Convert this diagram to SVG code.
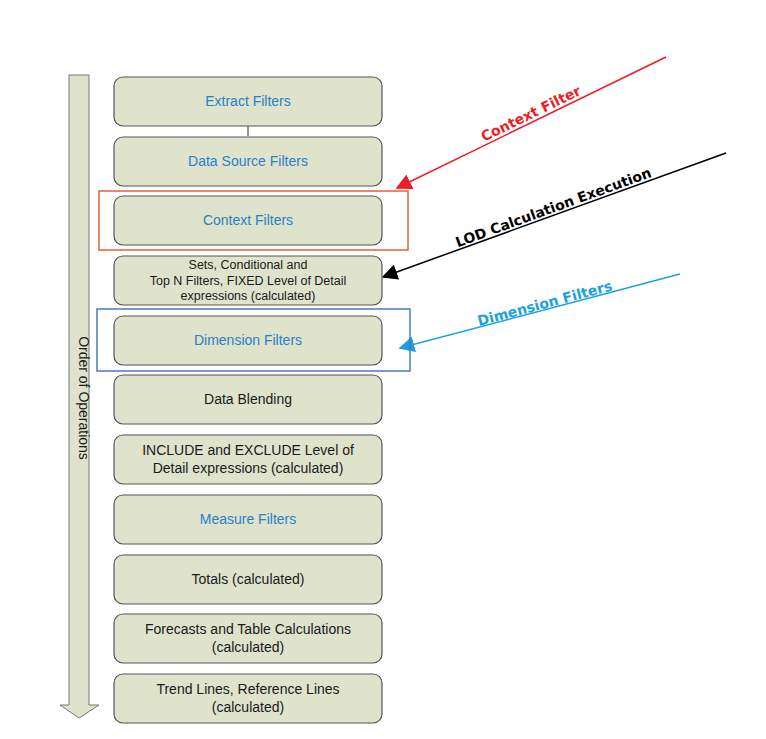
<svg xmlns="http://www.w3.org/2000/svg" width="766" height="739" viewBox="0 0 766 739">
<style>
.box{fill:#dfe3cc;stroke:#555;stroke-width:1.2}
.t{font-family:"Liberation Sans",Arial,sans-serif;font-size:14px;text-anchor:middle;fill:#1a1a1a}
.b{fill:#2a7fc9}
.s{font-size:12.5px}
.lbl{font-family:"DejaVu Sans",sans-serif;font-weight:bold;font-size:14px;text-anchor:middle}
</style>
<defs>
<marker id="mr" viewBox="0 0 10 10" refX="9" refY="5" markerWidth="6" markerHeight="6" orient="auto" markerUnits="userSpaceOnUse" style="overflow:visible"><path d="M0,0L10,5L0,10z" fill="#ee1c24" transform="scale(1.6)"/></marker>
<marker id="mk" viewBox="0 0 10 10" refX="9" refY="5" markerWidth="16" markerHeight="16" orient="auto" markerUnits="userSpaceOnUse"><path d="M0,0L10,5L0,10z" fill="#000"/></marker>
<marker id="mb" viewBox="0 0 10 10" refX="9" refY="5" markerWidth="16" markerHeight="16" orient="auto" markerUnits="userSpaceOnUse"><path d="M0,0L10,5L0,10z" fill="#1ba1e2"/></marker>
<marker id="mr2" viewBox="0 0 10 10" refX="9" refY="5" markerWidth="16" markerHeight="16" orient="auto" markerUnits="userSpaceOnUse"><path d="M0,0L10,5L0,10z" fill="#ee1c24"/></marker>
</defs>
<g id="order-arrow">
<path d="M69,75H89V705H99L79,718L60,705H69Z" fill="#dfe3cc" stroke="#777" stroke-width="1"/>
<text class="t" transform="translate(79,398) rotate(90)" font-size="14">Order of Operations</text>
</g>
<g id="connectors">
<line x1="248" y1="126" x2="248" y2="136" stroke="#333" stroke-width="1"/>
<line x1="666" y1="57" x2="397" y2="188" stroke="#ee1c24" stroke-width="1.5" marker-end="url(#mr2)"/>
<line x1="726" y1="153" x2="383" y2="277" stroke="#000" stroke-width="1.5" marker-end="url(#mk)"/>
<line x1="680" y1="274" x2="400" y2="348" stroke="#1ba1e2" stroke-width="1.5" marker-end="url(#mb)"/>
</g>
<g id="n1"><rect class="box" x="114" y="77" width="268" height="49" rx="9"/><text class="t b" x="248" y="106">Extract Filters</text></g>
<g id="n2"><rect class="box" x="114" y="137" width="268" height="49" rx="9"/><text class="t b" x="248" y="166">Data Source Filters</text></g>
<g id="n3"><rect class="box" x="114" y="196" width="268" height="49" rx="9"/><text class="t b" x="248" y="225">Context Filters</text></g>
<g id="n4"><rect class="box" x="114" y="256" width="268" height="49" rx="9"/><text class="t s" x="248" y="269">Sets, Conditional and</text><text class="t s" x="248" y="285">Top N Filters, FIXED Level of Detail</text><text class="t s" x="248" y="300">expressions (calculated)</text></g>
<g id="n5"><rect class="box" x="114" y="316" width="268" height="49" rx="9"/><text class="t b" x="248" y="345">Dimension Filters</text></g>
<g id="n6"><rect class="box" x="114" y="375" width="268" height="49" rx="9"/><text class="t" x="248" y="404">Data Blending</text></g>
<g id="n7"><rect class="box" x="114" y="435" width="268" height="49" rx="9"/><text class="t" x="248" y="455">INCLUDE and EXCLUDE Level of</text><text class="t" x="248" y="473">Detail expressions (calculated)</text></g>
<g id="n8"><rect class="box" x="114" y="495" width="268" height="49" rx="9"/><text class="t b" x="248" y="524">Measure Filters</text></g>
<g id="n9"><rect class="box" x="114" y="555" width="268" height="49" rx="9"/><text class="t" x="248" y="584">Totals (calculated)</text></g>
<g id="n10"><rect class="box" x="114" y="614" width="268" height="49" rx="9"/><text class="t" x="248" y="634">Forecasts and Table Calculations</text><text class="t" x="248" y="652">(calculated)</text></g>
<g id="n11"><rect class="box" x="114" y="674" width="268" height="49" rx="9"/><text class="t" x="248" y="694">Trend Lines, Reference Lines</text><text class="t" x="248" y="712">(calculated)</text></g>
<g id="highlights" fill="none" stroke-width="1.5">
<rect x="99" y="191" width="309" height="59" stroke="#e0603c"/>
<rect x="97" y="309" width="313" height="62" stroke="#4a7ab8"/>
</g>
<g id="labels">
<text class="lbl" fill="#ee1c24" transform="translate(533,118) rotate(-26)">Context Filter</text>
<text class="lbl" fill="#000" transform="translate(555,212) rotate(-20)">LOD Calculation Execution</text>
<text class="lbl" fill="#1ba1e2" transform="translate(546,308) rotate(-15)">Dimension Filters</text>
</g>
</svg>
